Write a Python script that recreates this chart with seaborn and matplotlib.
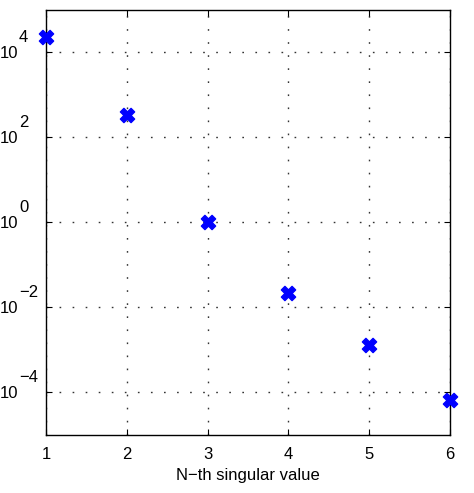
import numpy as np
import pandas as pd
import seaborn as sns
import matplotlib
matplotlib.use("Agg")
import matplotlib.pyplot as plt
from matplotlib.ticker import FixedLocator, FixedFormatter, NullLocator

# singular values (log10 estimates)
n_index = [1, 2, 3, 4, 5, 6]
log_sv = [4.35, 2.52, 0.0, -1.67, -2.89, -4.17]
sv = [10 ** v for v in log_sv]
y_exponents = [4, 2, 0, -2, -4]
x_label = "N\u2212th singular value"

df = pd.DataFrame({"n": n_index, "sv": sv})

sns.set_style("ticks")
plt.rcParams['font.family'] = ['Liberation Sans', 'DejaVu Sans']
plt.rcParams['text.color'] = 'black'
plt.rcParams['axes.labelcolor'] = 'black'
plt.rcParams['xtick.color'] = 'black'
plt.rcParams['ytick.color'] = 'black'

fig = plt.figure(figsize=(4.74, 4.93), dpi=100)
ax = fig.add_axes([0.097, 0.118, 0.852, 0.862])

sns.scatterplot(data=df, x="n", y="sv", marker="X", s=105, color="#0000ff",
                edgecolor="#0000ff", linewidth=1.0, ax=ax, zorder=3, clip_on=False)

ax.set_yscale("log")
ax.set_xlim(1, 6)
ax.set_ylim(1e-5, 1e5)
ax.set_xticks(n_index)
ax.yaxis.set_major_locator(FixedLocator([10.0 ** e for e in y_exponents]))
ax.yaxis.set_major_formatter(FixedFormatter(["10"] * len(y_exponents)))
ax.yaxis.set_minor_locator(NullLocator())
ax.set_xlabel(x_label, fontsize=12, labelpad=4)
ax.set_ylabel("")

# exponents drawn beside the "10" labels, matlab style
for e in y_exponents:
    ax.annotate("\u2212%d" % abs(e) if e < 0 else "%d" % e,
                xy=(0, 10.0 ** e), xycoords=("axes fraction", "data"),
                xytext=(-27, 15), textcoords="offset pixels",
                ha="left", va="center", fontsize=12)

ax.grid(True, linestyle=(0, (1.2, 8.2)), color="#333333", linewidth=1.0)
ax.tick_params(direction="in", top=True, right=True, labelsize=12, length=4)
ax.tick_params(axis="y", pad=20)
ax.tick_params(axis="x", pad=9)
for s in ax.spines.values():
    s.set_visible(True)
    s.set_linewidth(1.0)
    s.set_color("black")

fig.savefig("out.png", dpi=100)
